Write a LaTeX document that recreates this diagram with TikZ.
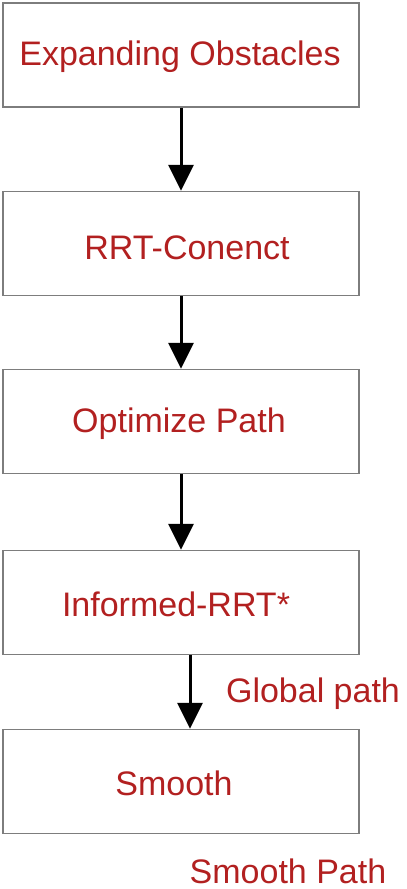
\documentclass[tikz,border=0pt]{standalone}
\usepackage{fontspec}
\setmainfont{Liberation Sans}
\usetikzlibrary{arrows.meta}
\definecolor{txtred}{RGB}{178,32,32}
\definecolor{boxgray}{RGB}{125,125,125}
\tikzset{
  stepbox/.style={draw=boxgray, line width=1.5pt, fill=white, minimum width=356pt, minimum height=104pt, inner sep=0pt},
  flow/.style={line width=3pt, -{Triangle[width=25pt,length=26pt]}},
  lbl/.style={text=txtred, font=\fontsize{34pt}{40pt}\selectfont, inner sep=0pt}
}
\begin{document}
\begin{tikzpicture}[x=1pt,y=-1pt]
\useasboundingbox (0,0) rectangle (407,889);
\node[stepbox] (b1) at (181,55) {};
\node[stepbox] (b2) at (181,243.5) {};
\node[stepbox] (b3) at (181,421.5) {};
\node[stepbox] (b4) at (181,602.5) {};
\node[stepbox] (b5) at (181,781.5) {};
\node[lbl] (t1) at ([xshift=-1pt,yshift=-2pt]b1.center) {Expanding Obstacles};
\node[lbl] (t2) at ([xshift=6pt,yshift=-4pt]b2.center) {RRT-Conenct};
\node[lbl] (t3) at ([xshift=-2pt,yshift=-2pt]b3.center) {Optimize Path};
\node[lbl] (t4) at ([xshift=-5pt,yshift=-2pt]b4.center) {Informed-RRT*};
\node[lbl] (t5) at ([xshift=-7pt,yshift=-2pt]b5.center) {Smooth};
\draw[flow] (b1.south) -- (b2.north);
\draw[flow] (b2.south) -- (b3.north);
\draw[flow] (b3.south) -- (b4.north);
\draw[flow] ([xshift=9pt]b4.south) -- ([xshift=9pt]b5.north);
\node[lbl, anchor=base] (gp) at (313,702) {Global path};
\node[lbl, anchor=base] (sp) at (288,883) {Smooth Path};
\end{tikzpicture}
\end{document}
